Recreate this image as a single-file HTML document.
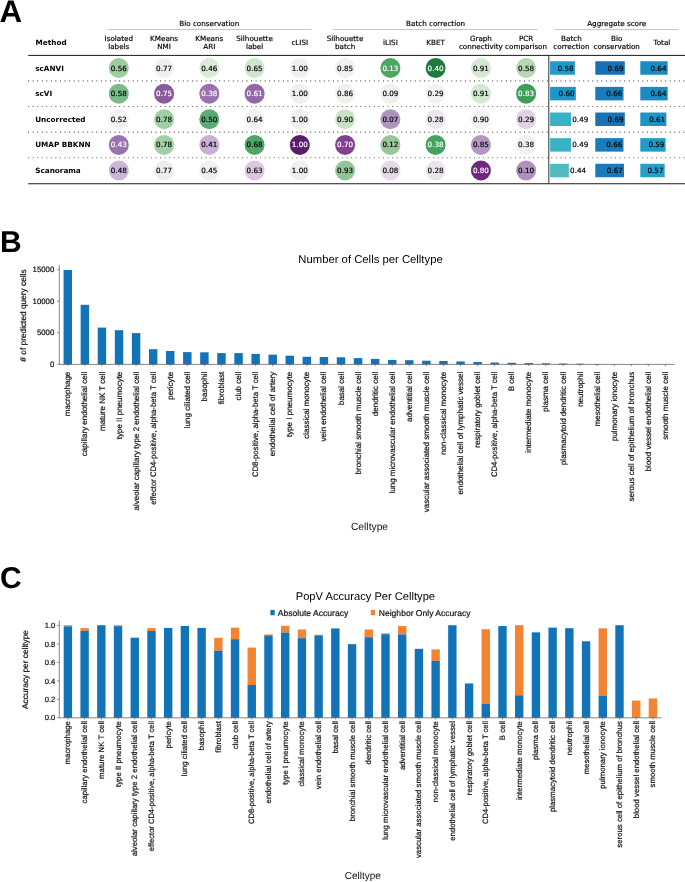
<!DOCTYPE html>
<html lang="en"><head><meta charset="utf-8"><title>Figure</title>
<style>html,body{margin:0;padding:0;background:#fff;}body{width:685px;height:882px;overflow:hidden;}svg{display:block;text-rendering:geometricPrecision;}.dj{font-family:"DejaVu Sans","Liberation Sans",sans-serif;}.ar{font-family:"Liberation Sans","DejaVu Sans",sans-serif;}.k{stroke:#000;stroke-width:0.18px;}.w{stroke:#fff;stroke-width:0.18px;}.g{stroke:#111;stroke-width:0.2px;}</style></head><body>
<svg width="685" height="882" viewBox="0 0 685 882">
<rect width="685" height="882" fill="#fff"/>
<text class="ar" x="-0.5" y="21.7" font-size="31.3" font-weight="700" fill="#000">A</text>
<text class="ar" x="0.0" y="251.6" font-size="30" font-weight="700" fill="#000">B</text>
<text class="ar" x="0.0" y="588.2" font-size="30" font-weight="700" fill="#000">C</text>
<line x1="107.5" x2="311.5" y1="29.55" y2="29.55" stroke="#c4c4c4" stroke-width="1"/>
<line x1="332.9" x2="537.5" y1="29.55" y2="29.55" stroke="#c4c4c4" stroke-width="1"/>
<line x1="555.0" x2="678.4" y1="29.55" y2="29.55" stroke="#c4c4c4" stroke-width="1"/>
<text class="dj k" x="209.3" y="25.5" font-size="7.2" text-anchor="middle" fill="#000">Bio conservation</text>
<text class="dj k" x="435.6" y="25.5" font-size="7.2" text-anchor="middle" fill="#000">Batch correction</text>
<text class="dj k" x="616.7" y="25.5" font-size="7.2" text-anchor="middle" fill="#000">Aggregate score</text>
<text class="dj k" x="118.8" y="40.65" font-size="7.2" text-anchor="middle" fill="#000">Isolated</text>
<text class="dj k" x="118.8" y="48.7" font-size="7.2" text-anchor="middle" fill="#000">labels</text>
<text class="dj k" x="164.1" y="40.65" font-size="7.2" text-anchor="middle" fill="#000">KMeans</text>
<text class="dj k" x="164.1" y="48.7" font-size="7.2" text-anchor="middle" fill="#000">NMI</text>
<text class="dj k" x="209.3" y="40.65" font-size="7.2" text-anchor="middle" fill="#000">KMeans</text>
<text class="dj k" x="209.3" y="48.7" font-size="7.2" text-anchor="middle" fill="#000">ARI</text>
<text class="dj k" x="254.6" y="40.65" font-size="7.2" text-anchor="middle" fill="#000">Silhouette</text>
<text class="dj k" x="254.6" y="48.7" font-size="7.2" text-anchor="middle" fill="#000">label</text>
<text class="dj k" x="299.8" y="44.75" font-size="7.2" text-anchor="middle" fill="#000">cLISI</text>
<text class="dj k" x="345.1" y="40.65" font-size="7.2" text-anchor="middle" fill="#000">Silhouette</text>
<text class="dj k" x="345.1" y="48.7" font-size="7.2" text-anchor="middle" fill="#000">batch</text>
<text class="dj k" x="390.4" y="44.75" font-size="7.2" text-anchor="middle" fill="#000">iLISI</text>
<text class="dj k" x="435.6" y="44.75" font-size="7.2" text-anchor="middle" fill="#000">KBET</text>
<text class="dj k" x="480.9" y="40.65" font-size="7.2" text-anchor="middle" fill="#000">Graph</text>
<text class="dj k" x="480.9" y="48.7" font-size="7.2" text-anchor="middle" fill="#000">connectivity</text>
<text class="dj k" x="526.1" y="40.65" font-size="7.2" text-anchor="middle" fill="#000">PCR</text>
<text class="dj k" x="526.1" y="48.7" font-size="7.2" text-anchor="middle" fill="#000">comparison</text>
<text class="dj k" x="571.4" y="40.65" font-size="7.2" text-anchor="middle" fill="#000">Batch</text>
<text class="dj k" x="571.4" y="48.7" font-size="7.2" text-anchor="middle" fill="#000">correction</text>
<text class="dj k" x="616.7" y="40.65" font-size="7.2" text-anchor="middle" fill="#000">Bio</text>
<text class="dj k" x="616.7" y="48.7" font-size="7.2" text-anchor="middle" fill="#000">conservation</text>
<text class="dj k" x="661.9" y="44.75" font-size="7.2" text-anchor="middle" fill="#000">Total</text>
<text class="dj" x="35.6" y="44.5" font-size="7.28" font-weight="700" fill="#000">Method</text>
<line x1="28.2" x2="685" y1="55.4" y2="55.4" stroke="#1a1a1a" stroke-width="1"/>
<line x1="28.2" x2="685" y1="183.75" y2="183.75" stroke="#1a1a1a" stroke-width="1"/>
<line x1="28.6" x2="685" y1="80.88" y2="80.88" stroke="#444" stroke-width="1.15" stroke-linecap="round" stroke-dasharray="0.01 4.54"/>
<line x1="28.6" x2="685" y1="106.51" y2="106.51" stroke="#444" stroke-width="1.15" stroke-linecap="round" stroke-dasharray="0.01 4.54"/>
<line x1="28.6" x2="685" y1="132.14" y2="132.14" stroke="#444" stroke-width="1.15" stroke-linecap="round" stroke-dasharray="0.01 4.54"/>
<line x1="28.6" x2="685" y1="157.77" y2="157.77" stroke="#444" stroke-width="1.15" stroke-linecap="round" stroke-dasharray="0.01 4.54"/>
<line x1="548.8" x2="548.8" y1="55.4" y2="183.55" stroke="#333" stroke-width="1"/>
<text class="dj" x="35.2" y="70.50" font-size="7.28" font-weight="700" fill="#000">scANVI</text>
<text class="dj" x="35.2" y="96.13" font-size="7.28" font-weight="700" fill="#000">scVI</text>
<text class="dj" x="35.2" y="121.76" font-size="7.28" font-weight="700" fill="#000">Uncorrected</text>
<text class="dj" x="35.2" y="147.39" font-size="7.28" font-weight="700" fill="#000">UMAP BBKNN</text>
<text class="dj" x="35.2" y="173.02" font-size="7.28" font-weight="700" fill="#000">Scanorama</text>
<circle cx="118.8" cy="68.00" r="10" fill="#9ecba2"/>
<text class="dj k" x="118.8" y="70.50" font-size="7.2" text-anchor="middle" fill="#000">0.56</text>
<circle cx="164.1" cy="68.00" r="10" fill="#f0f0ee"/>
<text class="dj k" x="164.1" y="70.50" font-size="7.2" text-anchor="middle" fill="#000">0.77</text>
<circle cx="209.3" cy="68.00" r="10" fill="#d9ead7"/>
<text class="dj k" x="209.3" y="70.50" font-size="7.2" text-anchor="middle" fill="#000">0.46</text>
<circle cx="254.6" cy="68.00" r="10" fill="#cfe5cd"/>
<text class="dj k" x="254.6" y="70.50" font-size="7.2" text-anchor="middle" fill="#000">0.65</text>
<circle cx="299.8" cy="68.00" r="10" fill="#f0f0ee"/>
<text class="dj k" x="299.8" y="70.50" font-size="7.2" text-anchor="middle" fill="#000">1.00</text>
<circle cx="345.1" cy="68.00" r="10" fill="#f1eff1"/>
<text class="dj k" x="345.1" y="70.50" font-size="7.2" text-anchor="middle" fill="#000">0.85</text>
<circle cx="390.4" cy="68.00" r="10" fill="#4da763"/>
<text class="dj w" x="390.4" y="70.50" font-size="7.2" text-anchor="middle" fill="#fff">0.13</text>
<circle cx="435.6" cy="68.00" r="10" fill="#1b7a3c"/>
<text class="dj w" x="435.6" y="70.50" font-size="7.2" text-anchor="middle" fill="#fff">0.40</text>
<circle cx="480.9" cy="68.00" r="10" fill="#d3e8d1"/>
<text class="dj k" x="480.9" y="70.50" font-size="7.2" text-anchor="middle" fill="#000">0.91</text>
<circle cx="526.1" cy="68.00" r="10" fill="#b5d8b5"/>
<text class="dj k" x="526.1" y="70.50" font-size="7.2" text-anchor="middle" fill="#000">0.58</text>
<circle cx="118.8" cy="93.63" r="10" fill="#7bbb88"/>
<text class="dj k" x="118.8" y="96.13" font-size="7.2" text-anchor="middle" fill="#000">0.58</text>
<circle cx="164.1" cy="93.63" r="10" fill="#8a5a9e"/>
<text class="dj w" x="164.1" y="96.13" font-size="7.2" text-anchor="middle" fill="#fff">0.75</text>
<circle cx="209.3" cy="93.63" r="10" fill="#9a72ae"/>
<text class="dj w" x="209.3" y="96.13" font-size="7.2" text-anchor="middle" fill="#fff">0.38</text>
<circle cx="254.6" cy="93.63" r="10" fill="#9467a8"/>
<text class="dj w" x="254.6" y="96.13" font-size="7.2" text-anchor="middle" fill="#fff">0.61</text>
<circle cx="299.8" cy="93.63" r="10" fill="#f0efed"/>
<text class="dj k" x="299.8" y="96.13" font-size="7.2" text-anchor="middle" fill="#000">1.00</text>
<circle cx="345.1" cy="93.63" r="10" fill="#f0f1ee"/>
<text class="dj k" x="345.1" y="96.13" font-size="7.2" text-anchor="middle" fill="#000">0.86</text>
<circle cx="390.4" cy="93.63" r="10" fill="#f0f0ee"/>
<text class="dj k" x="390.4" y="96.13" font-size="7.2" text-anchor="middle" fill="#000">0.09</text>
<circle cx="435.6" cy="93.63" r="10" fill="#f2f2f0"/>
<text class="dj k" x="435.6" y="96.13" font-size="7.2" text-anchor="middle" fill="#000">0.29</text>
<circle cx="480.9" cy="93.63" r="10" fill="#d3e8d1"/>
<text class="dj k" x="480.9" y="96.13" font-size="7.2" text-anchor="middle" fill="#000">0.91</text>
<circle cx="526.1" cy="93.63" r="10" fill="#3f9e5a"/>
<text class="dj w" x="526.1" y="96.13" font-size="7.2" text-anchor="middle" fill="#fff">0.83</text>
<circle cx="118.8" cy="119.26" r="10" fill="#f1eff1"/>
<text class="dj k" x="118.8" y="121.76" font-size="7.2" text-anchor="middle" fill="#000">0.52</text>
<circle cx="164.1" cy="119.26" r="10" fill="#9fd0a3"/>
<text class="dj k" x="164.1" y="121.76" font-size="7.2" text-anchor="middle" fill="#000">0.78</text>
<circle cx="209.3" cy="119.26" r="10" fill="#5aab72"/>
<text class="dj k" x="209.3" y="121.76" font-size="7.2" text-anchor="middle" fill="#000">0.50</text>
<circle cx="254.6" cy="119.26" r="10" fill="#f2f0f2"/>
<text class="dj k" x="254.6" y="121.76" font-size="7.2" text-anchor="middle" fill="#000">0.64</text>
<circle cx="299.8" cy="119.26" r="10" fill="#f0efed"/>
<text class="dj k" x="299.8" y="121.76" font-size="7.2" text-anchor="middle" fill="#000">1.00</text>
<circle cx="345.1" cy="119.26" r="10" fill="#c8e2c6"/>
<text class="dj k" x="345.1" y="121.76" font-size="7.2" text-anchor="middle" fill="#000">0.90</text>
<circle cx="390.4" cy="119.26" r="10" fill="#af94bf"/>
<text class="dj k" x="390.4" y="121.76" font-size="7.2" text-anchor="middle" fill="#000">0.07</text>
<circle cx="435.6" cy="119.26" r="10" fill="#ece8ed"/>
<text class="dj k" x="435.6" y="121.76" font-size="7.2" text-anchor="middle" fill="#000">0.28</text>
<circle cx="480.9" cy="119.26" r="10" fill="#f2f2f0"/>
<text class="dj k" x="480.9" y="121.76" font-size="7.2" text-anchor="middle" fill="#000">0.90</text>
<circle cx="526.1" cy="119.26" r="10" fill="#e2d2e5"/>
<text class="dj k" x="526.1" y="121.76" font-size="7.2" text-anchor="middle" fill="#000">0.29</text>
<circle cx="118.8" cy="144.89" r="10" fill="#9b72ae"/>
<text class="dj w" x="118.8" y="147.39" font-size="7.2" text-anchor="middle" fill="#fff">0.43</text>
<circle cx="164.1" cy="144.89" r="10" fill="#9fd0a3"/>
<text class="dj k" x="164.1" y="147.39" font-size="7.2" text-anchor="middle" fill="#000">0.78</text>
<circle cx="209.3" cy="144.89" r="10" fill="#c9b0d4"/>
<text class="dj k" x="209.3" y="147.39" font-size="7.2" text-anchor="middle" fill="#000">0.41</text>
<circle cx="254.6" cy="144.89" r="10" fill="#4fa468"/>
<text class="dj k" x="254.6" y="147.39" font-size="7.2" text-anchor="middle" fill="#000">0.68</text>
<circle cx="299.8" cy="144.89" r="10" fill="#5a1e6b"/>
<text class="dj w" x="299.8" y="147.39" font-size="7.2" text-anchor="middle" fill="#fff">1.00</text>
<circle cx="345.1" cy="144.89" r="10" fill="#80428f"/>
<text class="dj w" x="345.1" y="147.39" font-size="7.2" text-anchor="middle" fill="#fff">0.70</text>
<circle cx="390.4" cy="144.89" r="10" fill="#95c79b"/>
<text class="dj k" x="390.4" y="147.39" font-size="7.2" text-anchor="middle" fill="#000">0.12</text>
<circle cx="435.6" cy="144.89" r="10" fill="#43a260"/>
<text class="dj w" x="435.6" y="147.39" font-size="7.2" text-anchor="middle" fill="#fff">0.38</text>
<circle cx="480.9" cy="144.89" r="10" fill="#b298c2"/>
<text class="dj k" x="480.9" y="147.39" font-size="7.2" text-anchor="middle" fill="#000">0.85</text>
<circle cx="526.1" cy="144.89" r="10" fill="#f2f2f0"/>
<text class="dj k" x="526.1" y="147.39" font-size="7.2" text-anchor="middle" fill="#000">0.38</text>
<circle cx="118.8" cy="170.52" r="10" fill="#cdb5d7"/>
<text class="dj k" x="118.8" y="173.02" font-size="7.2" text-anchor="middle" fill="#000">0.48</text>
<circle cx="164.1" cy="170.52" r="10" fill="#eeecee"/>
<text class="dj k" x="164.1" y="173.02" font-size="7.2" text-anchor="middle" fill="#000">0.77</text>
<circle cx="209.3" cy="170.52" r="10" fill="#f0f0ee"/>
<text class="dj k" x="209.3" y="173.02" font-size="7.2" text-anchor="middle" fill="#000">0.45</text>
<circle cx="254.6" cy="170.52" r="10" fill="#dcc6df"/>
<text class="dj k" x="254.6" y="173.02" font-size="7.2" text-anchor="middle" fill="#000">0.63</text>
<circle cx="299.8" cy="170.52" r="10" fill="#f0efed"/>
<text class="dj k" x="299.8" y="173.02" font-size="7.2" text-anchor="middle" fill="#000">1.00</text>
<circle cx="345.1" cy="170.52" r="10" fill="#90c597"/>
<text class="dj k" x="345.1" y="173.02" font-size="7.2" text-anchor="middle" fill="#000">0.93</text>
<circle cx="390.4" cy="170.52" r="10" fill="#e6dae8"/>
<text class="dj k" x="390.4" y="173.02" font-size="7.2" text-anchor="middle" fill="#000">0.08</text>
<circle cx="435.6" cy="170.52" r="10" fill="#ece4ed"/>
<text class="dj k" x="435.6" y="173.02" font-size="7.2" text-anchor="middle" fill="#000">0.28</text>
<circle cx="480.9" cy="170.52" r="10" fill="#72277f"/>
<text class="dj w" x="480.9" y="173.02" font-size="7.2" text-anchor="middle" fill="#fff">0.80</text>
<circle cx="526.1" cy="170.52" r="10" fill="#ad92bd"/>
<text class="dj k" x="526.1" y="173.02" font-size="7.2" text-anchor="middle" fill="#000">0.10</text>
<rect x="550.1" y="61.25" width="24.8" height="13.5" fill="#1e9bc8"/>
<text class="dj k" x="573.7" y="70.50" font-size="7.2" text-anchor="end" fill="#000">0.58</text>
<rect x="550.1" y="86.88" width="25.7" height="13.5" fill="#1b96c7"/>
<text class="dj k" x="574.6" y="96.13" font-size="7.2" text-anchor="end" fill="#000">0.60</text>
<rect x="550.1" y="112.51" width="21.0" height="13.5" fill="#38b3c4"/>
<text class="dj k" x="572.3" y="121.76" font-size="7.2" fill="#000">0.49</text>
<rect x="550.1" y="138.14" width="21.0" height="13.5" fill="#38b3c4"/>
<text class="dj k" x="572.3" y="147.39" font-size="7.2" fill="#000">0.49</text>
<rect x="550.1" y="163.77" width="18.8" height="13.5" fill="#52bbbf"/>
<text class="dj k" x="570.1" y="173.02" font-size="7.2" fill="#000">0.44</text>
<rect x="595.3" y="61.25" width="29.5" height="13.5" fill="#1872b6"/>
<text class="dj k" x="623.6" y="70.50" font-size="7.2" text-anchor="end" fill="#000">0.69</text>
<rect x="595.3" y="86.88" width="28.2" height="13.5" fill="#1a7dbb"/>
<text class="dj k" x="622.3" y="96.13" font-size="7.2" text-anchor="end" fill="#000">0.66</text>
<rect x="595.3" y="112.51" width="29.5" height="13.5" fill="#1872b6"/>
<text class="dj k" x="623.6" y="121.76" font-size="7.2" text-anchor="end" fill="#000">0.69</text>
<rect x="595.3" y="138.14" width="28.2" height="13.5" fill="#1a7dbb"/>
<text class="dj k" x="622.3" y="147.39" font-size="7.2" text-anchor="end" fill="#000">0.66</text>
<rect x="595.3" y="163.77" width="28.7" height="13.5" fill="#1a79b9"/>
<text class="dj k" x="622.8" y="173.02" font-size="7.2" text-anchor="end" fill="#000">0.67</text>
<rect x="640.3" y="61.25" width="27.4" height="13.5" fill="#1a8cc4"/>
<text class="dj k" x="666.5" y="70.50" font-size="7.2" text-anchor="end" fill="#000">0.64</text>
<rect x="640.3" y="86.88" width="27.4" height="13.5" fill="#1a8cc4"/>
<text class="dj k" x="666.5" y="96.13" font-size="7.2" text-anchor="end" fill="#000">0.64</text>
<rect x="640.3" y="112.51" width="26.1" height="13.5" fill="#1c95c6"/>
<text class="dj k" x="665.2" y="121.76" font-size="7.2" text-anchor="end" fill="#000">0.61</text>
<rect x="640.3" y="138.14" width="25.3" height="13.5" fill="#209bc8"/>
<text class="dj k" x="664.4" y="147.39" font-size="7.2" text-anchor="end" fill="#000">0.59</text>
<rect x="640.3" y="163.77" width="24.4" height="13.5" fill="#259fc8"/>
<text class="dj k" x="663.5" y="173.02" font-size="7.2" text-anchor="end" fill="#000">0.57</text>
<rect x="63.57" y="270.00" width="8.45" height="94.40" fill="#1274b6"/>
<rect x="80.65" y="304.80" width="8.45" height="59.60" fill="#1274b6"/>
<rect x="97.72" y="327.60" width="8.45" height="36.80" fill="#1274b6"/>
<rect x="114.80" y="330.20" width="8.45" height="34.20" fill="#1274b6"/>
<rect x="131.88" y="333.10" width="8.45" height="31.30" fill="#1274b6"/>
<rect x="148.95" y="349.20" width="8.45" height="15.20" fill="#1274b6"/>
<rect x="166.03" y="351.00" width="8.45" height="13.40" fill="#1274b6"/>
<rect x="183.10" y="352.10" width="8.45" height="12.30" fill="#1274b6"/>
<rect x="200.17" y="352.30" width="8.45" height="12.10" fill="#1274b6"/>
<rect x="217.25" y="353.10" width="8.45" height="11.30" fill="#1274b6"/>
<rect x="234.33" y="353.10" width="8.45" height="11.30" fill="#1274b6"/>
<rect x="251.40" y="353.90" width="8.45" height="10.50" fill="#1274b6"/>
<rect x="268.47" y="354.70" width="8.45" height="9.70" fill="#1274b6"/>
<rect x="285.55" y="355.70" width="8.45" height="8.70" fill="#1274b6"/>
<rect x="302.62" y="356.80" width="8.45" height="7.60" fill="#1274b6"/>
<rect x="319.70" y="357.00" width="8.45" height="7.40" fill="#1274b6"/>
<rect x="336.77" y="357.30" width="8.45" height="7.10" fill="#1274b6"/>
<rect x="353.85" y="358.10" width="8.45" height="6.30" fill="#1274b6"/>
<rect x="370.92" y="358.90" width="8.45" height="5.50" fill="#1274b6"/>
<rect x="388.00" y="359.90" width="8.45" height="4.50" fill="#1274b6"/>
<rect x="405.07" y="360.20" width="8.45" height="4.20" fill="#1274b6"/>
<rect x="422.15" y="360.70" width="8.45" height="3.70" fill="#1274b6"/>
<rect x="439.22" y="361.00" width="8.45" height="3.40" fill="#1274b6"/>
<rect x="456.30" y="361.50" width="8.45" height="2.90" fill="#1274b6"/>
<rect x="473.37" y="362.00" width="8.45" height="2.40" fill="#1274b6"/>
<rect x="490.45" y="362.50" width="8.45" height="1.90" fill="#1274b6"/>
<rect x="507.52" y="362.80" width="8.45" height="1.60" fill="#1274b6"/>
<rect x="524.60" y="363.10" width="8.45" height="1.30" fill="#1274b6"/>
<rect x="541.67" y="363.30" width="8.45" height="1.10" fill="#1274b6"/>
<rect x="558.75" y="363.55" width="8.45" height="0.85" fill="#1274b6"/>
<rect x="575.82" y="363.75" width="8.45" height="0.65" fill="#1274b6"/>
<rect x="592.90" y="364.20" width="8.45" height="0.20" fill="#1274b6"/>
<rect x="609.97" y="364.28" width="8.45" height="0.12" fill="#1274b6"/>
<rect x="627.05" y="364.30" width="8.45" height="0.10" fill="#1274b6"/>
<rect x="644.12" y="364.30" width="8.45" height="0.10" fill="#1274b6"/>
<rect x="661.20" y="364.30" width="8.45" height="0.10" fill="#1274b6"/>
<line x1="59.3" x2="59.3" y1="264.8" y2="364.4" stroke="#484848" stroke-width="0.65"/>
<line x1="59.3" x2="674.5" y1="364.4" y2="364.4" stroke="#5e5e5e" stroke-width="0.75"/>
<line x1="67.80" x2="67.80" y1="364.4" y2="366.2" stroke="#484848" stroke-width="0.6"/>
<text class="ar g" transform="translate(70.35,371.7) rotate(-90)" font-size="8.0" text-anchor="end" fill="#111">macrophage</text>
<line x1="84.88" x2="84.88" y1="364.4" y2="366.2" stroke="#484848" stroke-width="0.6"/>
<text class="ar g" transform="translate(87.42,371.7) rotate(-90)" font-size="8.0" text-anchor="end" fill="#111">capillary endothelial cell</text>
<line x1="101.95" x2="101.95" y1="364.4" y2="366.2" stroke="#484848" stroke-width="0.6"/>
<text class="ar g" transform="translate(104.50,371.7) rotate(-90)" font-size="8.0" text-anchor="end" fill="#111">mature NK T cell</text>
<line x1="119.02" x2="119.02" y1="364.4" y2="366.2" stroke="#484848" stroke-width="0.6"/>
<text class="ar g" transform="translate(121.57,371.7) rotate(-90)" font-size="8.0" text-anchor="end" fill="#111">type II pneumocyte</text>
<line x1="136.10" x2="136.10" y1="364.4" y2="366.2" stroke="#484848" stroke-width="0.6"/>
<text class="ar g" transform="translate(138.65,371.7) rotate(-90)" font-size="8.0" text-anchor="end" fill="#111">alveolar capillary type 2 endothelial cell</text>
<line x1="153.18" x2="153.18" y1="364.4" y2="366.2" stroke="#484848" stroke-width="0.6"/>
<text class="ar g" transform="translate(155.73,371.7) rotate(-90) scale(0.966,1)" font-size="8.0" text-anchor="end" fill="#111">effector CD4-positive, alpha-beta T cell</text>
<line x1="170.25" x2="170.25" y1="364.4" y2="366.2" stroke="#484848" stroke-width="0.6"/>
<text class="ar g" transform="translate(172.80,371.7) rotate(-90)" font-size="8.0" text-anchor="end" fill="#111">pericyte</text>
<line x1="187.32" x2="187.32" y1="364.4" y2="366.2" stroke="#484848" stroke-width="0.6"/>
<text class="ar g" transform="translate(189.88,371.7) rotate(-90)" font-size="8.0" text-anchor="end" fill="#111">lung ciliated cell</text>
<line x1="204.40" x2="204.40" y1="364.4" y2="366.2" stroke="#484848" stroke-width="0.6"/>
<text class="ar g" transform="translate(206.95,371.7) rotate(-90)" font-size="8.0" text-anchor="end" fill="#111">basophil</text>
<line x1="221.47" x2="221.47" y1="364.4" y2="366.2" stroke="#484848" stroke-width="0.6"/>
<text class="ar g" transform="translate(224.02,371.7) rotate(-90)" font-size="8.0" text-anchor="end" fill="#111">fibroblast</text>
<line x1="238.55" x2="238.55" y1="364.4" y2="366.2" stroke="#484848" stroke-width="0.6"/>
<text class="ar g" transform="translate(241.10,371.7) rotate(-90)" font-size="8.0" text-anchor="end" fill="#111">club cell</text>
<line x1="255.62" x2="255.62" y1="364.4" y2="366.2" stroke="#484848" stroke-width="0.6"/>
<text class="ar g" transform="translate(258.18,371.7) rotate(-90) scale(0.966,1)" font-size="8.0" text-anchor="end" fill="#111">CD8-positive, alpha-beta T cell</text>
<line x1="272.70" x2="272.70" y1="364.4" y2="366.2" stroke="#484848" stroke-width="0.6"/>
<text class="ar g" transform="translate(275.25,371.7) rotate(-90)" font-size="8.0" text-anchor="end" fill="#111">endothelial cell of artery</text>
<line x1="289.77" x2="289.77" y1="364.4" y2="366.2" stroke="#484848" stroke-width="0.6"/>
<text class="ar g" transform="translate(292.32,371.7) rotate(-90)" font-size="8.0" text-anchor="end" fill="#111">type I pneumocyte</text>
<line x1="306.85" x2="306.85" y1="364.4" y2="366.2" stroke="#484848" stroke-width="0.6"/>
<text class="ar g" transform="translate(309.40,371.7) rotate(-90)" font-size="8.0" text-anchor="end" fill="#111">classical monocyte</text>
<line x1="323.93" x2="323.93" y1="364.4" y2="366.2" stroke="#484848" stroke-width="0.6"/>
<text class="ar g" transform="translate(326.48,371.7) rotate(-90)" font-size="8.0" text-anchor="end" fill="#111">vein endothelial cell</text>
<line x1="341.00" x2="341.00" y1="364.4" y2="366.2" stroke="#484848" stroke-width="0.6"/>
<text class="ar g" transform="translate(343.55,371.7) rotate(-90)" font-size="8.0" text-anchor="end" fill="#111">basal cell</text>
<line x1="358.07" x2="358.07" y1="364.4" y2="366.2" stroke="#484848" stroke-width="0.6"/>
<text class="ar g" transform="translate(360.62,371.7) rotate(-90)" font-size="8.0" text-anchor="end" fill="#111">bronchial smooth muscle cell</text>
<line x1="375.15" x2="375.15" y1="364.4" y2="366.2" stroke="#484848" stroke-width="0.6"/>
<text class="ar g" transform="translate(377.70,371.7) rotate(-90)" font-size="8.0" text-anchor="end" fill="#111">dendritic cell</text>
<line x1="392.23" x2="392.23" y1="364.4" y2="366.2" stroke="#484848" stroke-width="0.6"/>
<text class="ar g" transform="translate(394.78,371.7) rotate(-90)" font-size="8.0" text-anchor="end" fill="#111">lung microvascular endothelial cell</text>
<line x1="409.30" x2="409.30" y1="364.4" y2="366.2" stroke="#484848" stroke-width="0.6"/>
<text class="ar g" transform="translate(411.85,371.7) rotate(-90)" font-size="8.0" text-anchor="end" fill="#111">adventitial cell</text>
<line x1="426.38" x2="426.38" y1="364.4" y2="366.2" stroke="#484848" stroke-width="0.6"/>
<text class="ar g" transform="translate(428.93,371.7) rotate(-90)" font-size="8.0" text-anchor="end" fill="#111">vascular associated smooth muscle cell</text>
<line x1="443.45" x2="443.45" y1="364.4" y2="366.2" stroke="#484848" stroke-width="0.6"/>
<text class="ar g" transform="translate(446.00,371.7) rotate(-90)" font-size="8.0" text-anchor="end" fill="#111">non-classical monocyte</text>
<line x1="460.52" x2="460.52" y1="364.4" y2="366.2" stroke="#484848" stroke-width="0.6"/>
<text class="ar g" transform="translate(463.07,371.7) rotate(-90)" font-size="8.0" text-anchor="end" fill="#111">endothelial cell of lymphatic vessel</text>
<line x1="477.60" x2="477.60" y1="364.4" y2="366.2" stroke="#484848" stroke-width="0.6"/>
<text class="ar g" transform="translate(480.15,371.7) rotate(-90)" font-size="8.0" text-anchor="end" fill="#111">respiratory goblet cell</text>
<line x1="494.68" x2="494.68" y1="364.4" y2="366.2" stroke="#484848" stroke-width="0.6"/>
<text class="ar g" transform="translate(497.23,371.7) rotate(-90) scale(0.966,1)" font-size="8.0" text-anchor="end" fill="#111">CD4-positive, alpha-beta T cell</text>
<line x1="511.75" x2="511.75" y1="364.4" y2="366.2" stroke="#484848" stroke-width="0.6"/>
<text class="ar g" transform="translate(514.30,371.7) rotate(-90)" font-size="8.0" text-anchor="end" fill="#111">B cell</text>
<line x1="528.82" x2="528.82" y1="364.4" y2="366.2" stroke="#484848" stroke-width="0.6"/>
<text class="ar g" transform="translate(531.37,371.7) rotate(-90)" font-size="8.0" text-anchor="end" fill="#111">intermediate monocyte</text>
<line x1="545.90" x2="545.90" y1="364.4" y2="366.2" stroke="#484848" stroke-width="0.6"/>
<text class="ar g" transform="translate(548.45,371.7) rotate(-90)" font-size="8.0" text-anchor="end" fill="#111">plasma cell</text>
<line x1="562.97" x2="562.97" y1="364.4" y2="366.2" stroke="#484848" stroke-width="0.6"/>
<text class="ar g" transform="translate(565.52,371.7) rotate(-90)" font-size="8.0" text-anchor="end" fill="#111">plasmacytoid dendritic cell</text>
<line x1="580.05" x2="580.05" y1="364.4" y2="366.2" stroke="#484848" stroke-width="0.6"/>
<text class="ar g" transform="translate(582.60,371.7) rotate(-90)" font-size="8.0" text-anchor="end" fill="#111">neutrophil</text>
<line x1="597.12" x2="597.12" y1="364.4" y2="366.2" stroke="#484848" stroke-width="0.6"/>
<text class="ar g" transform="translate(599.67,371.7) rotate(-90)" font-size="8.0" text-anchor="end" fill="#111">mesothelial cell</text>
<line x1="614.20" x2="614.20" y1="364.4" y2="366.2" stroke="#484848" stroke-width="0.6"/>
<text class="ar g" transform="translate(616.75,371.7) rotate(-90)" font-size="8.0" text-anchor="end" fill="#111">pulmonary ionocyte</text>
<line x1="631.27" x2="631.27" y1="364.4" y2="366.2" stroke="#484848" stroke-width="0.6"/>
<text class="ar g" transform="translate(633.82,371.7) rotate(-90)" font-size="8.0" text-anchor="end" fill="#111">serous cell of epithelium of bronchus</text>
<line x1="648.35" x2="648.35" y1="364.4" y2="366.2" stroke="#484848" stroke-width="0.6"/>
<text class="ar g" transform="translate(650.90,371.7) rotate(-90)" font-size="8.0" text-anchor="end" fill="#111">blood vessel endothelial cell</text>
<line x1="665.42" x2="665.42" y1="364.4" y2="366.2" stroke="#484848" stroke-width="0.6"/>
<text class="ar g" transform="translate(667.97,371.7) rotate(-90)" font-size="8.0" text-anchor="end" fill="#111">smooth muscle cell</text>
<line x1="57.099999999999994" x2="59.3" y1="364.40" y2="364.40" stroke="#484848" stroke-width="0.6"/>
<text class="ar g" x="54.3" y="367.05" font-size="7.8" text-anchor="end" fill="#111">0</text>
<line x1="57.099999999999994" x2="59.3" y1="332.80" y2="332.80" stroke="#484848" stroke-width="0.6"/>
<text class="ar g" x="54.3" y="335.45" font-size="7.8" text-anchor="end" fill="#111">5000</text>
<line x1="57.099999999999994" x2="59.3" y1="301.20" y2="301.20" stroke="#484848" stroke-width="0.6"/>
<text class="ar g" x="54.3" y="303.85" font-size="7.8" text-anchor="end" fill="#111">10000</text>
<line x1="57.099999999999994" x2="59.3" y1="269.60" y2="269.60" stroke="#484848" stroke-width="0.6"/>
<text class="ar g" x="54.3" y="272.25" font-size="7.8" text-anchor="end" fill="#111">15000</text>
<text class="ar g" transform="translate(25.7,315.5) rotate(-90)" font-size="8.3" text-anchor="middle" fill="#111"># of predicted query cells</text>
<text class="ar" x="370.5" y="263.1" font-size="11.3" text-anchor="middle" fill="#000">Number of Cells per Celltype</text>
<text class="ar" x="369.5" y="530" font-size="10.3" text-anchor="middle" fill="#111">Celltype</text>
<rect x="63.70" y="625.22" width="8.4" height="1.11" fill="#f28533"/>
<rect x="63.70" y="626.33" width="8.4" height="91.47" fill="#1274b6"/>
<rect x="80.42" y="628.08" width="8.4" height="2.77" fill="#f28533"/>
<rect x="80.42" y="630.85" width="8.4" height="86.95" fill="#1274b6"/>
<rect x="97.13" y="625.22" width="8.4" height="92.58" fill="#1274b6"/>
<rect x="113.84" y="625.22" width="8.4" height="0.92" fill="#f28533"/>
<rect x="113.84" y="626.15" width="8.4" height="91.65" fill="#1274b6"/>
<rect x="130.56" y="637.68" width="8.4" height="80.12" fill="#1274b6"/>
<rect x="147.28" y="628.08" width="8.4" height="2.86" fill="#f28533"/>
<rect x="147.28" y="630.95" width="8.4" height="86.85" fill="#1274b6"/>
<rect x="163.99" y="627.90" width="8.4" height="89.90" fill="#1274b6"/>
<rect x="180.71" y="625.96" width="8.4" height="91.84" fill="#1274b6"/>
<rect x="197.42" y="627.90" width="8.4" height="89.90" fill="#1274b6"/>
<rect x="214.14" y="637.87" width="8.4" height="12.83" fill="#f28533"/>
<rect x="214.14" y="650.70" width="8.4" height="67.10" fill="#1274b6"/>
<rect x="230.85" y="627.62" width="8.4" height="11.54" fill="#f28533"/>
<rect x="230.85" y="639.16" width="8.4" height="78.64" fill="#1274b6"/>
<rect x="247.57" y="647.56" width="8.4" height="37.47" fill="#f28533"/>
<rect x="247.57" y="685.03" width="8.4" height="32.77" fill="#1274b6"/>
<rect x="264.28" y="634.45" width="8.4" height="0.92" fill="#f28533"/>
<rect x="264.28" y="635.38" width="8.4" height="82.42" fill="#1274b6"/>
<rect x="281.00" y="625.78" width="8.4" height="6.83" fill="#f28533"/>
<rect x="281.00" y="632.61" width="8.4" height="85.19" fill="#1274b6"/>
<rect x="297.71" y="629.47" width="8.4" height="8.68" fill="#f28533"/>
<rect x="297.71" y="638.15" width="8.4" height="79.65" fill="#1274b6"/>
<rect x="314.43" y="634.73" width="8.4" height="0.65" fill="#f28533"/>
<rect x="314.43" y="635.38" width="8.4" height="82.42" fill="#1274b6"/>
<rect x="331.14" y="628.45" width="8.4" height="89.35" fill="#1274b6"/>
<rect x="347.85" y="644.14" width="8.4" height="73.66" fill="#1274b6"/>
<rect x="364.57" y="629.47" width="8.4" height="7.75" fill="#f28533"/>
<rect x="364.57" y="637.22" width="8.4" height="80.58" fill="#1274b6"/>
<rect x="381.29" y="633.35" width="8.4" height="0.83" fill="#f28533"/>
<rect x="381.29" y="634.18" width="8.4" height="83.62" fill="#1274b6"/>
<rect x="398.00" y="626.05" width="8.4" height="8.40" fill="#f28533"/>
<rect x="398.00" y="634.45" width="8.4" height="83.35" fill="#1274b6"/>
<rect x="414.71" y="648.85" width="8.4" height="68.95" fill="#1274b6"/>
<rect x="431.43" y="649.41" width="8.4" height="11.54" fill="#f28533"/>
<rect x="431.43" y="660.94" width="8.4" height="56.86" fill="#1274b6"/>
<rect x="448.15" y="625.22" width="8.4" height="92.58" fill="#1274b6"/>
<rect x="464.86" y="683.46" width="8.4" height="34.34" fill="#1274b6"/>
<rect x="481.57" y="629.19" width="8.4" height="74.76" fill="#f28533"/>
<rect x="481.57" y="703.95" width="8.4" height="13.84" fill="#1274b6"/>
<rect x="498.29" y="626.05" width="8.4" height="91.75" fill="#1274b6"/>
<rect x="515.00" y="625.22" width="8.4" height="70.06" fill="#f28533"/>
<rect x="515.00" y="695.28" width="8.4" height="22.52" fill="#1274b6"/>
<rect x="531.72" y="632.33" width="8.4" height="85.47" fill="#1274b6"/>
<rect x="548.43" y="627.62" width="8.4" height="90.18" fill="#1274b6"/>
<rect x="565.15" y="628.18" width="8.4" height="89.62" fill="#1274b6"/>
<rect x="581.86" y="641.28" width="8.4" height="76.52" fill="#1274b6"/>
<rect x="598.58" y="628.36" width="8.4" height="67.19" fill="#f28533"/>
<rect x="598.58" y="695.56" width="8.4" height="22.24" fill="#1274b6"/>
<rect x="615.29" y="625.22" width="8.4" height="92.58" fill="#1274b6"/>
<rect x="632.01" y="700.54" width="8.4" height="17.26" fill="#f28533"/>
<rect x="648.72" y="698.42" width="8.4" height="19.38" fill="#f28533"/>
<line x1="59.3" x2="59.3" y1="620.5" y2="717.8" stroke="#484848" stroke-width="0.65"/>
<line x1="59.3" x2="661.6" y1="717.8" y2="717.8" stroke="#5e5e5e" stroke-width="0.75"/>
<line x1="67.90" x2="67.90" y1="717.8" y2="719.5999999999999" stroke="#484848" stroke-width="0.6"/>
<text class="ar g" transform="translate(70.45,721.0999999999999) rotate(-90)" font-size="7.8" text-anchor="end" fill="#111">macrophage</text>
<line x1="84.62" x2="84.62" y1="717.8" y2="719.5999999999999" stroke="#484848" stroke-width="0.6"/>
<text class="ar g" transform="translate(87.17,721.0999999999999) rotate(-90)" font-size="7.8" text-anchor="end" fill="#111">capillary endothelial cell</text>
<line x1="101.33" x2="101.33" y1="717.8" y2="719.5999999999999" stroke="#484848" stroke-width="0.6"/>
<text class="ar g" transform="translate(103.88,721.0999999999999) rotate(-90)" font-size="7.8" text-anchor="end" fill="#111">mature NK T cell</text>
<line x1="118.05" x2="118.05" y1="717.8" y2="719.5999999999999" stroke="#484848" stroke-width="0.6"/>
<text class="ar g" transform="translate(120.59,721.0999999999999) rotate(-90)" font-size="7.8" text-anchor="end" fill="#111">type II pneumocyte</text>
<line x1="134.76" x2="134.76" y1="717.8" y2="719.5999999999999" stroke="#484848" stroke-width="0.6"/>
<text class="ar g" transform="translate(137.31,721.0999999999999) rotate(-90)" font-size="7.8" text-anchor="end" fill="#111">alveolar capillary type 2 endothelial cell</text>
<line x1="151.48" x2="151.48" y1="717.8" y2="719.5999999999999" stroke="#484848" stroke-width="0.6"/>
<text class="ar g" transform="translate(154.03,721.0999999999999) rotate(-90) scale(0.968,1)" font-size="7.8" text-anchor="end" fill="#111">effector CD4-positive, alpha-beta T cell</text>
<line x1="168.19" x2="168.19" y1="717.8" y2="719.5999999999999" stroke="#484848" stroke-width="0.6"/>
<text class="ar g" transform="translate(170.74,721.0999999999999) rotate(-90)" font-size="7.8" text-anchor="end" fill="#111">pericyte</text>
<line x1="184.91" x2="184.91" y1="717.8" y2="719.5999999999999" stroke="#484848" stroke-width="0.6"/>
<text class="ar g" transform="translate(187.46,721.0999999999999) rotate(-90)" font-size="7.8" text-anchor="end" fill="#111">lung ciliated cell</text>
<line x1="201.62" x2="201.62" y1="717.8" y2="719.5999999999999" stroke="#484848" stroke-width="0.6"/>
<text class="ar g" transform="translate(204.17,721.0999999999999) rotate(-90)" font-size="7.8" text-anchor="end" fill="#111">basophil</text>
<line x1="218.34" x2="218.34" y1="717.8" y2="719.5999999999999" stroke="#484848" stroke-width="0.6"/>
<text class="ar g" transform="translate(220.89,721.0999999999999) rotate(-90)" font-size="7.8" text-anchor="end" fill="#111">fibroblast</text>
<line x1="235.05" x2="235.05" y1="717.8" y2="719.5999999999999" stroke="#484848" stroke-width="0.6"/>
<text class="ar g" transform="translate(237.60,721.0999999999999) rotate(-90)" font-size="7.8" text-anchor="end" fill="#111">club cell</text>
<line x1="251.77" x2="251.77" y1="717.8" y2="719.5999999999999" stroke="#484848" stroke-width="0.6"/>
<text class="ar g" transform="translate(254.32,721.0999999999999) rotate(-90) scale(0.968,1)" font-size="7.8" text-anchor="end" fill="#111">CD8-positive, alpha-beta T cell</text>
<line x1="268.48" x2="268.48" y1="717.8" y2="719.5999999999999" stroke="#484848" stroke-width="0.6"/>
<text class="ar g" transform="translate(271.03,721.0999999999999) rotate(-90)" font-size="7.8" text-anchor="end" fill="#111">endothelial cell of artery</text>
<line x1="285.19" x2="285.19" y1="717.8" y2="719.5999999999999" stroke="#484848" stroke-width="0.6"/>
<text class="ar g" transform="translate(287.75,721.0999999999999) rotate(-90)" font-size="7.8" text-anchor="end" fill="#111">type I pneumocyte</text>
<line x1="301.91" x2="301.91" y1="717.8" y2="719.5999999999999" stroke="#484848" stroke-width="0.6"/>
<text class="ar g" transform="translate(304.46,721.0999999999999) rotate(-90)" font-size="7.8" text-anchor="end" fill="#111">classical monocyte</text>
<line x1="318.62" x2="318.62" y1="717.8" y2="719.5999999999999" stroke="#484848" stroke-width="0.6"/>
<text class="ar g" transform="translate(321.18,721.0999999999999) rotate(-90)" font-size="7.8" text-anchor="end" fill="#111">vein endothelial cell</text>
<line x1="335.34" x2="335.34" y1="717.8" y2="719.5999999999999" stroke="#484848" stroke-width="0.6"/>
<text class="ar g" transform="translate(337.89,721.0999999999999) rotate(-90)" font-size="7.8" text-anchor="end" fill="#111">basal cell</text>
<line x1="352.05" x2="352.05" y1="717.8" y2="719.5999999999999" stroke="#484848" stroke-width="0.6"/>
<text class="ar g" transform="translate(354.60,721.0999999999999) rotate(-90)" font-size="7.8" text-anchor="end" fill="#111">bronchial smooth muscle cell</text>
<line x1="368.77" x2="368.77" y1="717.8" y2="719.5999999999999" stroke="#484848" stroke-width="0.6"/>
<text class="ar g" transform="translate(371.32,721.0999999999999) rotate(-90)" font-size="7.8" text-anchor="end" fill="#111">dendritic cell</text>
<line x1="385.49" x2="385.49" y1="717.8" y2="719.5999999999999" stroke="#484848" stroke-width="0.6"/>
<text class="ar g" transform="translate(388.04,721.0999999999999) rotate(-90)" font-size="7.8" text-anchor="end" fill="#111">lung microvascular endothelial cell</text>
<line x1="402.20" x2="402.20" y1="717.8" y2="719.5999999999999" stroke="#484848" stroke-width="0.6"/>
<text class="ar g" transform="translate(404.75,721.0999999999999) rotate(-90)" font-size="7.8" text-anchor="end" fill="#111">adventitial cell</text>
<line x1="418.91" x2="418.91" y1="717.8" y2="719.5999999999999" stroke="#484848" stroke-width="0.6"/>
<text class="ar g" transform="translate(421.46,721.0999999999999) rotate(-90)" font-size="7.8" text-anchor="end" fill="#111">vascular associated smooth muscle cell</text>
<line x1="435.63" x2="435.63" y1="717.8" y2="719.5999999999999" stroke="#484848" stroke-width="0.6"/>
<text class="ar g" transform="translate(438.18,721.0999999999999) rotate(-90)" font-size="7.8" text-anchor="end" fill="#111">non-classical monocyte</text>
<line x1="452.35" x2="452.35" y1="717.8" y2="719.5999999999999" stroke="#484848" stroke-width="0.6"/>
<text class="ar g" transform="translate(454.90,721.0999999999999) rotate(-90)" font-size="7.8" text-anchor="end" fill="#111">endothelial cell of lymphatic vessel</text>
<line x1="469.06" x2="469.06" y1="717.8" y2="719.5999999999999" stroke="#484848" stroke-width="0.6"/>
<text class="ar g" transform="translate(471.61,721.0999999999999) rotate(-90)" font-size="7.8" text-anchor="end" fill="#111">respiratory goblet cell</text>
<line x1="485.77" x2="485.77" y1="717.8" y2="719.5999999999999" stroke="#484848" stroke-width="0.6"/>
<text class="ar g" transform="translate(488.32,721.0999999999999) rotate(-90) scale(0.968,1)" font-size="7.8" text-anchor="end" fill="#111">CD4-positive, alpha-beta T cell</text>
<line x1="502.49" x2="502.49" y1="717.8" y2="719.5999999999999" stroke="#484848" stroke-width="0.6"/>
<text class="ar g" transform="translate(505.04,721.0999999999999) rotate(-90)" font-size="7.8" text-anchor="end" fill="#111">B cell</text>
<line x1="519.21" x2="519.21" y1="717.8" y2="719.5999999999999" stroke="#484848" stroke-width="0.6"/>
<text class="ar g" transform="translate(521.75,721.0999999999999) rotate(-90)" font-size="7.8" text-anchor="end" fill="#111">intermediate monocyte</text>
<line x1="535.92" x2="535.92" y1="717.8" y2="719.5999999999999" stroke="#484848" stroke-width="0.6"/>
<text class="ar g" transform="translate(538.47,721.0999999999999) rotate(-90)" font-size="7.8" text-anchor="end" fill="#111">plasma cell</text>
<line x1="552.63" x2="552.63" y1="717.8" y2="719.5999999999999" stroke="#484848" stroke-width="0.6"/>
<text class="ar g" transform="translate(555.18,721.0999999999999) rotate(-90)" font-size="7.8" text-anchor="end" fill="#111">plasmacytoid dendritic cell</text>
<line x1="569.35" x2="569.35" y1="717.8" y2="719.5999999999999" stroke="#484848" stroke-width="0.6"/>
<text class="ar g" transform="translate(571.90,721.0999999999999) rotate(-90)" font-size="7.8" text-anchor="end" fill="#111">neutrophil</text>
<line x1="586.06" x2="586.06" y1="717.8" y2="719.5999999999999" stroke="#484848" stroke-width="0.6"/>
<text class="ar g" transform="translate(588.61,721.0999999999999) rotate(-90)" font-size="7.8" text-anchor="end" fill="#111">mesothelial cell</text>
<line x1="602.78" x2="602.78" y1="717.8" y2="719.5999999999999" stroke="#484848" stroke-width="0.6"/>
<text class="ar g" transform="translate(605.33,721.0999999999999) rotate(-90)" font-size="7.8" text-anchor="end" fill="#111">pulmonary ionocyte</text>
<line x1="619.50" x2="619.50" y1="717.8" y2="719.5999999999999" stroke="#484848" stroke-width="0.6"/>
<text class="ar g" transform="translate(622.04,721.0999999999999) rotate(-90)" font-size="7.8" text-anchor="end" fill="#111">serous cell of epithelium of bronchus</text>
<line x1="636.21" x2="636.21" y1="717.8" y2="719.5999999999999" stroke="#484848" stroke-width="0.6"/>
<text class="ar g" transform="translate(638.76,721.0999999999999) rotate(-90)" font-size="7.8" text-anchor="end" fill="#111">blood vessel endothelial cell</text>
<line x1="652.92" x2="652.92" y1="717.8" y2="719.5999999999999" stroke="#484848" stroke-width="0.6"/>
<text class="ar g" transform="translate(655.47,721.0999999999999) rotate(-90)" font-size="7.8" text-anchor="end" fill="#111">smooth muscle cell</text>
<line x1="57.099999999999994" x2="59.3" y1="717.80" y2="717.80" stroke="#484848" stroke-width="0.6"/>
<text class="ar g" x="55.2" y="720.45" font-size="7.55" text-anchor="end" fill="#111">0.0</text>
<line x1="57.099999999999994" x2="59.3" y1="699.34" y2="699.34" stroke="#484848" stroke-width="0.6"/>
<text class="ar g" x="55.2" y="701.99" font-size="7.55" text-anchor="end" fill="#111">0.2</text>
<line x1="57.099999999999994" x2="59.3" y1="680.88" y2="680.88" stroke="#484848" stroke-width="0.6"/>
<text class="ar g" x="55.2" y="683.53" font-size="7.55" text-anchor="end" fill="#111">0.4</text>
<line x1="57.099999999999994" x2="59.3" y1="662.42" y2="662.42" stroke="#484848" stroke-width="0.6"/>
<text class="ar g" x="55.2" y="665.07" font-size="7.55" text-anchor="end" fill="#111">0.6</text>
<line x1="57.099999999999994" x2="59.3" y1="643.96" y2="643.96" stroke="#484848" stroke-width="0.6"/>
<text class="ar g" x="55.2" y="646.61" font-size="7.55" text-anchor="end" fill="#111">0.8</text>
<line x1="57.099999999999994" x2="59.3" y1="625.50" y2="625.50" stroke="#484848" stroke-width="0.6"/>
<text class="ar g" x="55.2" y="628.15" font-size="7.55" text-anchor="end" fill="#111">1.0</text>
<text class="ar g" transform="translate(28.1,669.5) rotate(-90)" font-size="8.3" text-anchor="middle" fill="#111">Accuracy per celltype</text>
<text class="ar" x="365.4" y="600.3" font-size="11.15" text-anchor="middle" fill="#000">PopV Accuracy Per Celltype</text>
<rect x="270.4" y="609.9" width="4.3" height="5.4" fill="#1274b6"/>
<text class="ar g" x="277.7" y="615.5" font-size="8.58" fill="#111">Absolute Accuracy</text>
<rect x="370.8" y="609.9" width="4.3" height="5.4" fill="#f28533"/>
<text class="ar g" x="378.8" y="615.5" font-size="8.55" fill="#111">Neighbor Only Accuracy</text>
<text class="ar" x="362.8" y="879.4" font-size="10.05" text-anchor="middle" fill="#111">Celltype</text>
</svg></body></html>
